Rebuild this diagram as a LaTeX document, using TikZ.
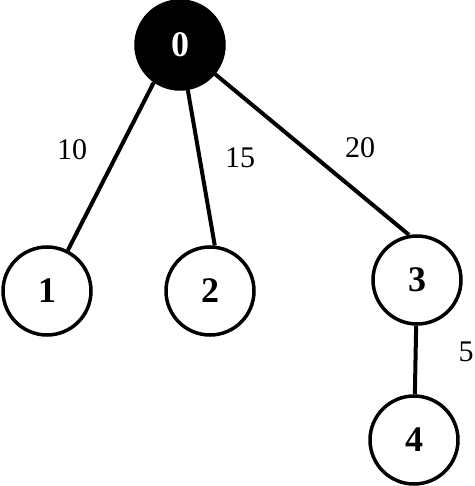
\documentclass[tikz,border=0pt]{standalone}
\usepackage{fontspec}
\setmainfont{Liberation Serif}
\usepackage{tikz}

\begin{document}
\begin{tikzpicture}[x=1pt, y=-1pt,
    vertex/.style={circle, draw, line width=3.5pt, minimum size=88pt, inner sep=0pt, font=\fontsize{36}{38}\selectfont\bfseries},
    root/.style={vertex, fill=black, text=white},
    weight/.style={font=\fontsize{30}{32}\selectfont},
    edge/.style={line width=4pt}]
  \useasboundingbox (0,0) rectangle (474,486);
  \node[root] (n0) at (180,45) {0};
  \node[vertex] (n1) at (47,291) {1};
  \node[vertex] (n2) at (210,291) {2};
  \node[vertex] (n3) at (417,280) {3};
  \node[vertex] (n4) at (414,440) {4};
  \draw[edge] (n0.235) -- (n1);
  \draw[edge] (n0) -- (n2.84);
  \draw[edge] (n0) -- (n3.100);
  \draw[edge] (n3) -- (n4);
  \node[weight] (w1) at (72,150) {10};
  \node[weight] (w2) at (240,158) {15};
  \node[weight] (w3) at (360,148) {20};
  \node[weight] (w4) at (466,352) {5};
\end{tikzpicture}
\end{document}
